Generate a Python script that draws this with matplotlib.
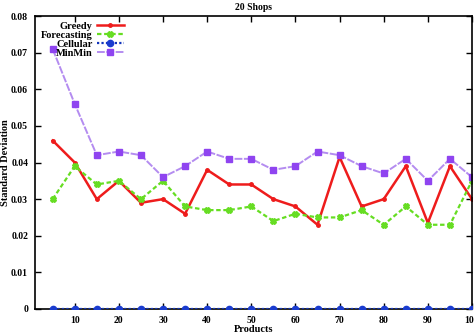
import numpy as np
import matplotlib
matplotlib.use("Agg")
import matplotlib.pyplot as plt

products = [5, 10, 15, 20, 25, 30, 35, 40, 45, 50, 55, 60, 65, 70, 75, 80, 85, 90, 95, 100]
greedy = [0.046, 0.040, 0.030, 0.035, 0.029, 0.030, 0.026, 0.038, 0.034, 0.034,
          0.030, 0.028, 0.023, 0.0415, 0.028, 0.030, 0.039, 0.0235, 0.039, 0.030]
forecasting = [0.030, 0.039, 0.034, 0.035, 0.030, 0.035, 0.028, 0.027, 0.027, 0.028,
               0.024, 0.026, 0.025, 0.025, 0.027, 0.023, 0.028, 0.023, 0.023, 0.035]
cellular = [0.0] * 20
minmin = [0.071, 0.056, 0.042, 0.043, 0.042, 0.036, 0.039, 0.043, 0.041, 0.041,
          0.038, 0.039, 0.043, 0.042, 0.039, 0.037, 0.041, 0.035, 0.041, 0.036]
yticks = [0, 0.01, 0.02, 0.03, 0.04, 0.05, 0.06, 0.07, 0.08]
ytick_labels = ['0', '0.01', '0.02', '0.03', '0.04', '0.05', '0.06', '0.07', '0.08']
xticks = [10, 20, 30, 40, 50, 60, 70, 80, 90, 100]

plt.rcParams['font.family'] = ['Liberation Serif', 'DejaVu Serif']
plt.rcParams['font.weight'] = 'bold'

W, H = 474, 335
fig = plt.figure(figsize=(W / 100, H / 100), dpi=100)
ax = fig.add_axes([35 / W, (H - 309) / H, (472 - 35) / W, (309 - 16) / H])

ax.plot(products, greedy, color='#ee1c1c', lw=1.8, marker='o', ms=2.5,
        label='Greedy')
ax.plot(products, forecasting, color='#66dd22', lw=1.6, ls=(0, (2, 1.2)),
        marker='X', ms=4, label='Forecasting')
ax.plot(products, cellular, color='#1133bb', lw=1.6, ls=(0, (1, 1)),
        marker='o', ms=4.5, markerfacecolor='#1a3ccf', markeredgecolor='#1a3ccf',
        label='Cellular', zorder=4)
ax.plot(products, minmin, color='#b48cf0', lw=1.4, ls=(0, (4, 0.8)),
        marker='s', ms=5, markerfacecolor='#8f44f0', markeredgecolor='#8f44f0',
        label='MinMin')

ax.set_xlim(1, 100)
ax.set_ylim(0, 0.08)
ax.set_xticks(xticks)
ax.set_xticklabels([str(t) for t in xticks], fontsize=7, fontweight='bold')
ax.set_yticks(yticks)
ax.set_yticklabels(ytick_labels, fontsize=7, fontweight='bold')
ax.tick_params(direction='in', top=True, right=True, length=4, width=1, pad=5)
for s in ax.spines.values():
    s.set_linewidth(1.2)

ax.set_xlabel('Products', fontsize=7.5, fontweight='bold')
ax.xaxis.set_label_coords(0.5, -0.055)
ax.set_ylabel('Standard Deviation', fontsize=7.5, fontweight='bold')
ax.yaxis.set_label_coords(-0.058, 0.5)
ax.set_title('20 Shops', fontsize=7, fontweight='bold', pad=4)

leg = ax.legend(loc='upper left', bbox_to_anchor=(0.0, 1.0), frameon=False,
                markerfirst=False, fontsize=7.5, handlelength=2.6,
                handleheight=0.5, labelspacing=0.0, handletextpad=0.4,
                borderaxespad=0.15)
for t in leg.get_texts():
    t.set_fontweight('bold')
    t.set_ha('right')
leg._legend_box.align = 'right'

fig.savefig('out.png', dpi=100)
